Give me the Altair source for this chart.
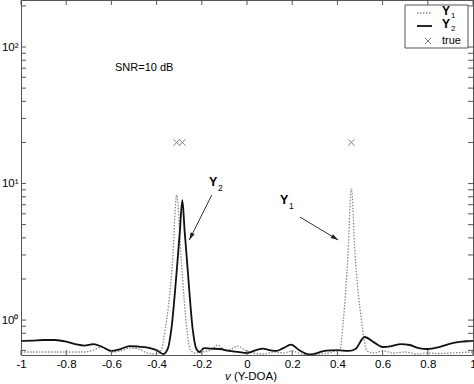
import altair as alt
import pandas as pd

# ---------------- data ----------------
y1_v = [-1.00, -0.90, -0.80, -0.72, -0.68, -0.64, -0.60, -0.56, -0.52, -0.48, -0.44, -0.40,
        -0.38, -0.363, -0.33, -0.311, -0.29, -0.265, -0.25,
        -0.23, -0.20, -0.16, -0.13, -0.10, -0.07, -0.04, -0.01, 0.03, 0.07, 0.12, 0.16,
        0.20, 0.24, 0.28, 0.32, 0.36, 0.39,
        0.41, 0.426, 0.447, 0.4615, 0.478, 0.507, 0.53,
        0.56, 0.60, 0.65, 0.70, 0.75, 0.80, 0.85, 0.90, 0.95, 1.00]
y1_val = [0.584, 0.584, 0.584, 0.584, 0.603, 0.635, 0.584, 0.594, 0.623, 0.614, 0.574, 0.564,
          0.600, 0.830, 2.600, 8.250, 2.600, 0.830, 0.600,
          0.574, 0.584, 0.603, 0.657, 0.603, 0.614, 0.645, 0.603, 0.574, 0.564, 0.584, 0.574,
          0.594, 0.564, 0.555, 0.564, 0.574, 0.594,
          0.600, 0.980, 3.060, 9.230, 3.060, 0.980, 0.600,
          0.574, 0.594, 0.574, 0.584, 0.564, 0.574, 0.569, 0.574, 0.579, 0.584]

y2_v = [-1.00, -0.95, -0.90, -0.85, -0.80, -0.76, -0.72, -0.68, -0.64, -0.60, -0.56, -0.52,
        -0.48, -0.44, -0.40, -0.37,
        -0.35, -0.335, -0.31, -0.297, -0.286, -0.276, -0.263, -0.24, -0.225,
        -0.21, -0.19, -0.16, -0.12, -0.08, -0.04, 0.00, 0.04, 0.07, 0.10, 0.13, 0.16,
        0.195, 0.23, 0.26, 0.28, 0.31, 0.35, 0.40, 0.45, 0.48, 0.52, 0.56, 0.60, 0.64,
        0.68, 0.72, 0.76, 0.80, 0.85, 0.90, 0.95, 1.00]
y2_val = [0.703, 0.708, 0.715, 0.715, 0.696, 0.667, 0.650, 0.667, 0.635, 0.594, 0.614, 0.645,
          0.639, 0.629, 0.603, 0.564,
          0.620, 0.850, 2.400, 4.500, 7.570, 4.500, 2.400, 0.850, 0.620,
          0.584, 0.623, 0.618, 0.614, 0.594, 0.584, 0.574, 0.603, 0.618, 0.603, 0.594, 0.623,
          0.661, 0.603, 0.569, 0.560, 0.574, 0.598, 0.603, 0.594, 0.614, 0.752, 0.690, 0.635, 0.645,
          0.667, 0.657, 0.623, 0.614, 0.635, 0.673, 0.696, 0.703]

true_v = [-0.311, -0.286, 0.4615]
true_val = [20, 20, 20]

x_ticks = [-1, -0.8, -0.6, -0.4, -0.2, 0, 0.2, 0.4, 0.6, 0.8, 1]
y_major = [1, 10, 100]
y_minor = [0.6, 0.7, 0.8, 0.9, 2, 3, 4, 5, 6, 7, 8, 9, 20, 30, 40, 50, 60, 70, 80, 90, 200]

# annotations (data coordinates)
snr_text = ["SNR=10 dB"]; snr_v = [-0.584]; snr_val = [70]
lab_main = ["Y", "Y"]; lab_sub = ["2", "1"]; lab_v = [-0.168, 0.146]; lab_val = [10.3, 7.6]
arr_v = [-0.156, 0.2345]; arr_val = [8.24, 5.68]
arr_v2 = [-0.2553, 0.404]; arr_val2 = [3.86, 3.86]
arr_angle = [206.5, 121.0]

W, H = 452, 355
FONT = "Liberation Sans"

xs = alt.Scale(domain=[-1, 1], nice=False, zero=False)
ys = alt.Scale(type="log", domain=[0.555, 221], nice=False)
x_axis = alt.Axis(values=x_ticks, labelExpr="toString(datum.value)", ticks=False, domain=False,
                  grid=False, labelPadding=3, labelFontSize=11.5, title=None, labelFlush=False)
y_axis = alt.Axis(values=y_major,
                  labelExpr="datum.value == 1 ? '10\u2070' : datum.value == 10 ? '10\u00b9' : '10\u00b2'",
                  ticks=False, domain=False, grid=False, labelPadding=3, labelFontSize=11.5, title=None)


def X(field="v"):
    return alt.X(f"{field}:Q", scale=xs, axis=x_axis)


def Y(field="val"):
    return alt.Y(f"{field}:Q", scale=ys, axis=y_axis)


df1 = pd.DataFrame({"v": y1_v, "val": y1_val})
df2 = pd.DataFrame({"v": y2_v, "val": y2_val})
dft = pd.DataFrame({"v": true_v, "val": true_val})
dxt = pd.DataFrame({"v": x_ticks})
dyt = pd.DataFrame({"val": y_major + y_minor})
dsnr = pd.DataFrame({"v": snr_v, "val": snr_val, "t": snr_text})
dlab = pd.DataFrame({"v": lab_v, "val": lab_val, "t": lab_main, "s": lab_sub})
darr = pd.DataFrame({"v": arr_v, "val": arr_val, "v2": arr_v2, "val2": arr_val2, "a": arr_angle})

XMARK = "M-1,-1L1,1M1,-1L-1,1"
HEAD = "M0,0L0.55,1.9L-0.55,1.9Z"

line1 = alt.Chart(df1).mark_line(color="#8a8a8a", strokeDash=[1.5, 1.5], strokeWidth=1.3,
                                 interpolate="monotone", clip=True).encode(x=X(), y=Y())
line2 = alt.Chart(df2).mark_line(color="#111111", strokeWidth=1.8,
                                 interpolate="monotone", clip=True).encode(x=X(), y=Y())
truep = alt.Chart(dft).mark_point(shape=XMARK, filled=False, color="#808080", size=40,
                                  strokeWidth=1, opacity=1).encode(x=X(), y=Y())

tick_style = dict(color="#555555", strokeWidth=1)
xt_bot = alt.Chart(dxt).mark_rule(**tick_style).encode(x=X(), y=alt.value(H), y2=alt.value(H - 5))
xt_top = alt.Chart(dxt).mark_rule(**tick_style).encode(x=X(), y=alt.value(0), y2=alt.value(5))
yt_l = alt.Chart(dyt).mark_rule(**tick_style).encode(y=Y(), x=alt.value(0), x2=alt.value(5))
yt_r = alt.Chart(dyt).mark_rule(**tick_style).encode(y=Y(), x=alt.value(W), x2=alt.value(W - 5))

snr = alt.Chart(dsnr).mark_text(align="left", baseline="middle", font=FONT, fontSize=11,
                                color="black").encode(x=X(), y=Y(), text="t:N")
labs = alt.Chart(dlab).mark_text(align="left", baseline="middle", font=FONT, fontSize=12.5,
                                 fontWeight="bold", color="black").encode(x=X(), y=Y(), text="t:N")
labs_sub = alt.Chart(dlab).mark_text(align="left", baseline="middle", font=FONT, fontSize=8.5,
                                     color="black", dx=9, dy=6).encode(x=X(), y=Y(), text="s:N")
arrows = alt.Chart(darr).mark_rule(color="#333333", strokeWidth=1).encode(
    x=X(), y=Y(), x2="v2:Q", y2="val2:Q")
heads = alt.Chart(darr).mark_point(shape=HEAD, filled=True, color="#222222", size=64, opacity=1).encode(
    x=X("v2"), y=Y("val2"), angle=alt.Angle("a:Q", scale=None))

# x-axis title with italic v
one = pd.DataFrame({"k": [0]})
xt_v = alt.Chart(one).mark_text(align="left", baseline="middle", font=FONT, fontSize=11.5,
                                fontStyle="italic", text="v").encode(x=alt.value(204), y=alt.value(H + 22))
xt_rest = alt.Chart(one).mark_text(align="left", baseline="middle", font=FONT, fontSize=11.5,
                                   text="(Y-DOA)").encode(x=alt.value(213), y=alt.value(H + 22))

# legend box (drawn manually like the MATLAB legend)
leg_box = alt.Chart(one).mark_rect(fill="white", stroke="#555555", strokeWidth=1).encode(
    x=alt.value(384), x2=alt.value(447), y=alt.value(5), y2=alt.value(48))
leg_l1 = alt.Chart(one).mark_rule(color="#8a8a8a", strokeDash=[1.5, 1.5], strokeWidth=1.3).encode(
    x=alt.value(396), x2=alt.value(410), y=alt.value(13))
leg_l2 = alt.Chart(one).mark_rule(color="#111111", strokeWidth=1.8).encode(
    x=alt.value(396), x2=alt.value(411), y=alt.value(26))
leg_x = alt.Chart(one).mark_point(shape=XMARK, filled=False, color="#808080", size=40,
                                  strokeWidth=1, opacity=1).encode(x=alt.value(407), y=alt.value(41))
leg_t1 = alt.Chart(one).mark_text(align="left", baseline="middle", font=FONT, fontSize=12,
                                  fontWeight="bold", text="Y").encode(x=alt.value(421), y=alt.value(11))
leg_s1 = alt.Chart(one).mark_text(align="left", baseline="middle", font=FONT, fontSize=8,
                                  text="1").encode(x=alt.value(430), y=alt.value(16))
leg_t2 = alt.Chart(one).mark_text(align="left", baseline="middle", font=FONT, fontSize=12,
                                  fontWeight="bold", text="Y").encode(x=alt.value(421), y=alt.value(24))
leg_s2 = alt.Chart(one).mark_text(align="left", baseline="middle", font=FONT, fontSize=8,
                                  text="2").encode(x=alt.value(430), y=alt.value(29))
leg_t3 = alt.Chart(one).mark_text(align="left", baseline="middle", font=FONT, fontSize=11,
                                  text="true").encode(x=alt.value(421), y=alt.value(41))

chart = alt.layer(
    line1, line2, truep, xt_bot, xt_top, yt_l, yt_r, snr, labs, labs_sub, arrows, heads,
    xt_v, xt_rest,
    leg_box, leg_l1, leg_l2, leg_x, leg_t1, leg_s1, leg_t2, leg_s2, leg_t3
).properties(
    width=W, height=H,
    autosize=alt.AutoSizeParams(type="none"),
    padding={"left": 21, "top": 0, "right": 1, "bottom": 29},
    background="white",
).configure_view(
    stroke="#555555", strokeWidth=1
).configure_axis(
    labelFont=FONT, titleFont=FONT, labelColor="black", titleColor="black"
)

chart.save("out.html", embed_options={"renderer": "svg", "actions": False})
